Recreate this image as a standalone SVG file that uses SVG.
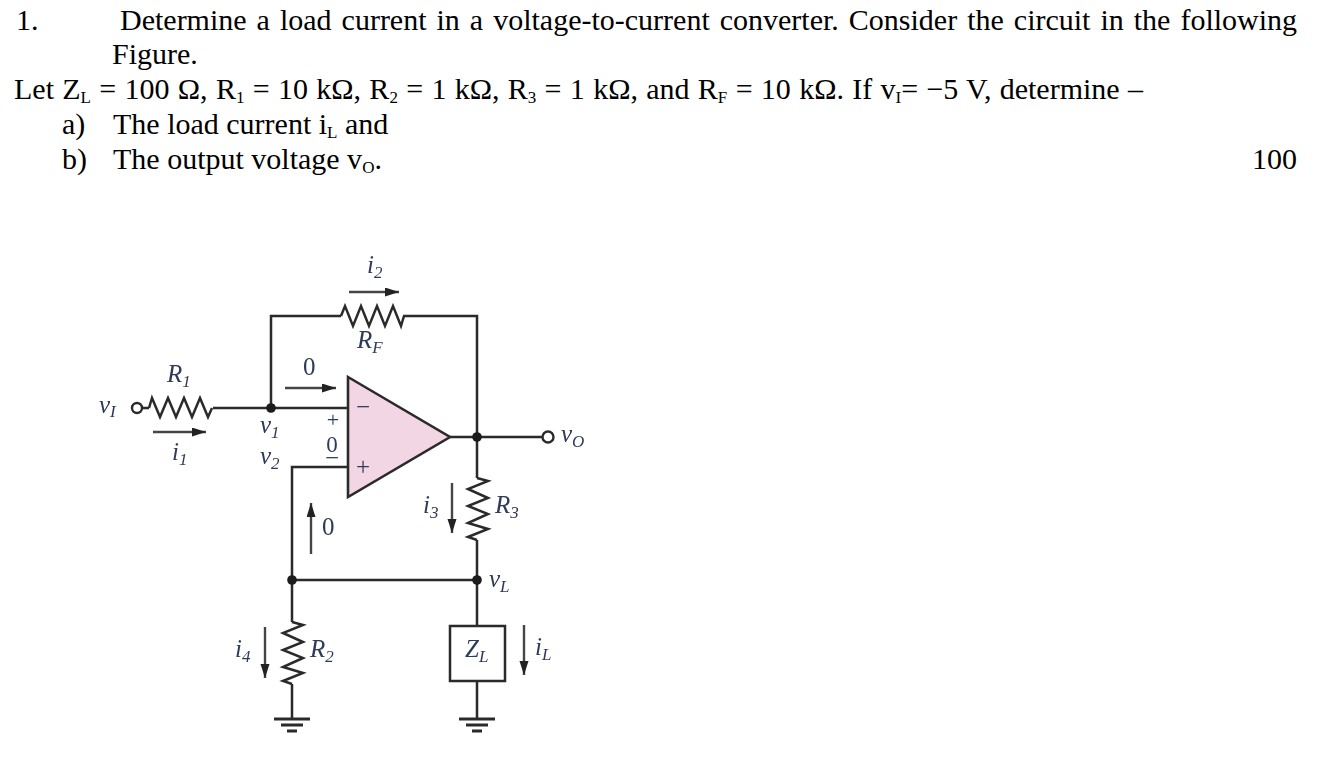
<svg xmlns="http://www.w3.org/2000/svg" width="1324" height="772" viewBox="0 0 1324 772">
<defs>
<style>
.t{font-family:"Liberation Serif","Times New Roman",serif;font-size:30px;fill:#000}
.s{font-size:17px}
.l{font-family:"Liberation Serif","Times New Roman",serif;font-size:25px;font-style:italic;fill:#2f3a58}
.u{font-size:17px}
.n{font-style:normal}
.w{fill:none;stroke:#2b2b2b;stroke-width:2.5;stroke-linejoin:miter}
.g{fill:none;stroke:#2b2b2b;stroke-width:3}
.a{fill:none;stroke:#444;stroke-width:2.4;marker-end:url(#h)}
.d{fill:#1a1a1a}
</style>
<marker id="h" markerUnits="userSpaceOnUse" markerWidth="15" markerHeight="10" refX="14" refY="4.5" orient="auto"><path d="M0 0L14 4.5L0 9Z" fill="#222"/></marker>
<filter id="b" x="-5%" y="-5%" width="110%" height="110%"><feGaussianBlur stdDeviation="0.55"/></filter>
</defs>
<rect width="1324" height="772" fill="#fff"/>
<g id="problem">
<text class="t" x="16" y="30">1.</text>
<text class="t" x="120" y="30" word-spacing="2.5">Determine a load current in a voltage-to-current converter. Consider the circuit in the following</text>
<text class="t" x="112" y="64">Figure.</text>
<text class="t" x="14" y="99" word-spacing="0.8">Let Z<tspan class="s" dy="4">L</tspan><tspan dy="-4"> = 100 Ω, R</tspan><tspan class="s" dy="4">1</tspan><tspan dy="-4"> = 10 kΩ, R</tspan><tspan class="s" dy="4">2</tspan><tspan dy="-4"> = 1 kΩ, R</tspan><tspan class="s" dy="4">3</tspan><tspan dy="-4"> = 1 kΩ, and R</tspan><tspan class="s" dy="4">F</tspan><tspan dy="-4"> = 10 kΩ. If v</tspan><tspan class="s" dy="4">I</tspan><tspan dy="-4">= −5 V, determine –</tspan></text>
<text class="t" x="62" y="134">a)</text>
<text class="t" x="113" y="134">The load current i<tspan class="s" dy="4">L</tspan><tspan dy="-4"> and</tspan></text>
<text class="t" x="62" y="169">b)</text>
<text class="t" x="113" y="169">The output voltage v<tspan class="s" dy="4">O</tspan><tspan dy="-4">.</tspan></text>
<text class="t" x="1252" y="169">100</text>
</g>
<g filter="url(#b)">
<g id="connectors">
<path class="w" d="M142 408H149M213 408H348M271 408V316H341M403 316H477V437M450 437H543M477 437V478M348 467H292V622M292 580H477M477 540V626M292 684V719M477 681V719"/>
</g>
<g id="opamp"><path d="M348 377L450 437L348 497Z" fill="#f3d6e4" stroke="#2b2b2b" stroke-width="2.6"/>
<text class="l n" x="363" y="415" text-anchor="middle" fill="#666">−</text>
<text class="l n" x="363" y="475" text-anchor="middle">+</text></g>
<g id="R1"><path class="w" d="M149 408L152 398L160 417L168 398L176 417L184 398L192 417L200 398L208 417L212 408"/></g>
<g id="RF"><path class="w" d="M341 316L345 306L353 326L361 306L369 326L377 306L385 326L393 306L401 326L404 316"/></g>
<g id="R3"><path class="w" d="M477 478L488 481L468 489L488 498L468 506L488 514L468 523L488 529L468 537L477 540"/></g>
<g id="R2"><path class="w" d="M292 622L303 625L283 633L303 642L283 650L303 658L283 667L303 673L283 681L292 684"/></g>
<g id="ZL"><rect class="w" x="450" y="626" width="55" height="55"/></g>
<g id="nodes">
<circle class="d" cx="271" cy="408" r="4.8"/><circle class="d" cx="477" cy="437" r="4.8"/><circle class="d" cx="292" cy="580" r="4.8"/><circle class="d" cx="477" cy="580" r="4.8"/>
<circle cx="137" cy="408" r="5" fill="#fff" stroke="#2b2b2b" stroke-width="2.4"/><circle cx="548" cy="437" r="5.5" fill="#fff" stroke="#2b2b2b" stroke-width="2.4"/>
</g>
<g id="grounds"><path class="g" d="M274 719H310M281 725H303M287 731H297M459 719H495M466 725H488M472 731H482"/></g>
<g id="arrows">
<path class="a" d="M349 292H399"/><path class="a" d="M285 388H336"/><path class="a" d="M153 432H206"/><path class="a" d="M311 554V503"/><path class="a" d="M452 483V533"/><path class="a" d="M265 627V678"/><path class="a" d="M524 625V675"/>
</g>
<g id="labels">
<text class="l" x="99" y="413">v<tspan class="u" dy="4">I</tspan></text>
<text class="l" x="167" y="382">R<tspan class="u" dy="5">1</tspan></text>
<text class="l" x="172" y="460">i<tspan class="u" dy="5">1</tspan></text>
<text class="l" x="367" y="273">i<tspan class="u" dy="5">2</tspan></text>
<text class="l" x="357" y="348">R<tspan class="u" dy="5">F</tspan></text>
<text class="l n" x="303" y="375">0</text>
<text class="l" x="260" y="433">v<tspan class="u" dy="5">1</tspan></text>
<text class="l" x="260" y="464">v<tspan class="u" dy="5">2</tspan></text>
<text class="l n" style="font-size:22px" x="333" y="427" text-anchor="middle">+</text>
<text class="l n" style="font-size:23px" x="332" y="452" text-anchor="middle">0</text>
<text class="l n" x="332" y="466" text-anchor="middle">−</text>
<text class="l" x="561" y="442">v<tspan class="u" dy="5">O</tspan></text>
<text class="l" x="423" y="513">i<tspan class="u" dy="5">3</tspan></text>
<text class="l" x="495" y="513">R<tspan class="u" dy="5">3</tspan></text>
<text class="l n" x="322" y="535">0</text>
<text class="l" x="489" y="587">v<tspan class="u" dy="5">L</tspan></text>
<text class="l" x="235" y="657">i<tspan class="u" dy="5">4</tspan></text>
<text class="l" x="310" y="657">R<tspan class="u" dy="5">2</tspan></text>
<text class="l" x="465" y="657">Z<tspan class="u" dy="5">L</tspan></text>
<text class="l" x="535" y="655">i<tspan class="u" dy="5">L</tspan></text>
</g>
</g>
</svg>
